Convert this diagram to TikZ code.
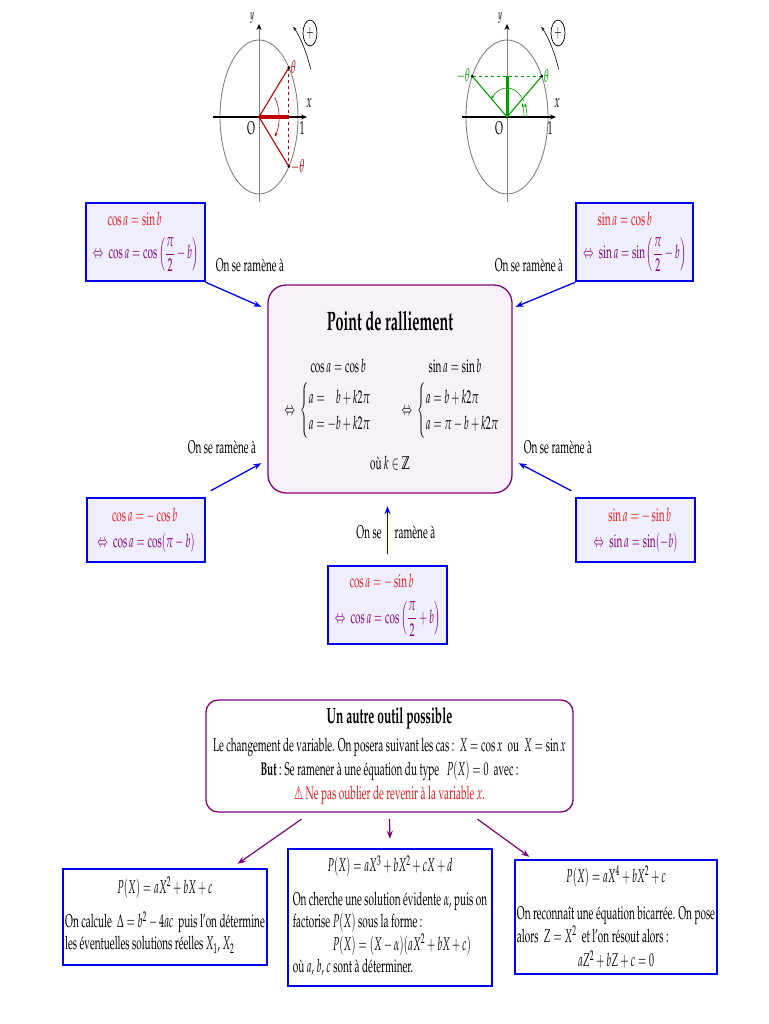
\documentclass[tikz,border=0pt]{standalone}
\usepackage{fontspec}
\usepackage[T1]{fontenc}
\usepackage{mathpazo}
\usepackage{amsmath,amssymb}
\usepackage{xcolor}
\usepackage{tikz}
\usetikzlibrary{arrows.meta,positioning}
\newfontfamily\signfont{DejaVu Sans}
\definecolor{convblue}{HTML}{0000F0}
\definecolor{convfill}{HTML}{EEEEFC}
\definecolor{rallypurple}{HTML}{800080}
\definecolor{rallyfill}{HTML}{F9F1F9}
\definecolor{eqred}{HTML}{F01818}
\definecolor{eqpurple}{HTML}{800080}
\definecolor{circred}{HTML}{C00000}
\definecolor{circgreen}{HTML}{00A000}
\definecolor{circgray}{HTML}{808080}
\tikzset{
  every node/.append style={yscale=1.85},
  convbox/.style={rectangle,draw=convblue,line width=1.3pt,fill=convfill,align=left,minimum width=119pt,inner sep=2pt},
  rallybox/.style={rectangle,rounded corners=18pt,draw=rallypurple,line width=1.3pt,fill=rallyfill,minimum width=244pt,minimum height=112.4pt},
  toolbox/.style={rectangle,rounded corners=12pt,draw=rallypurple,line width=1.3pt,fill=white,align=center,minimum width=367pt,minimum height=60.5pt},
  polybox/.style={rectangle,draw=convblue,line width=1.3pt,fill=white,align=center,inner sep=2pt},
  conv/.style={-{Stealth[length=8pt,width=6pt]},line width=1.3pt,draw=convblue},
  tool/.style={-{Stealth[length=8pt,width=6pt]},line width=1.2pt,draw=rallypurple},
  unitcircle/.style={draw=circgray,line width=0.9pt},
  xaxis/.style={-{Stealth[length=6pt,width=5pt]},line width=1.4pt,draw=black},
  yaxis/.style={-{Stealth[length=6pt,width=5pt,black]},line width=0.9pt,draw=circgray},
  turn/.style={-{Stealth[length=4pt,width=3pt]},line width=0.6pt},
  plussign/.style={circle,draw,line width=0.7pt,inner sep=0pt,minimum size=14pt,font=\small}
}
\begin{document}
\begin{tikzpicture}[x=1pt,y=-1pt]
\useasboundingbox (0,0) rectangle (768,1024);

% cercle trigo : cosinus
\begin{scope}[shift={(259pt,-117pt)}]
  \coordinate (oL) at (0pt,0pt);
  \coordinate (thL) at (40:39pt and 77pt);
  \coordinate (mthL) at (-40:39pt and 77pt);
  \draw[unitcircle] (oL) ellipse[x radius=39pt,y radius=77pt];
  \draw[yaxis] (0pt,-85pt) -- (0pt,93pt);
  \draw[xaxis] (-46pt,0pt) -- (48pt,0pt);
  \draw[circred,line width=3.5pt] (oL) -- (thL |- oL);
  \draw[circred,line width=1.1pt] (oL) -- (thL);
  \draw[circred,line width=1.1pt] (oL) -- (mthL);
  \draw[circred,line width=0.9pt,dashed] (thL) -- (mthL);
  \draw[circred,turn,{Stealth[length=4pt,width=3pt]}-] (-38:20pt and 32pt) arc[start angle=-38,end angle=38,x radius=20pt,y radius=32pt];
  \fill (thL) circle[radius=1.5pt];
  \fill (mthL) circle[radius=1.5pt];
  \node[anchor=west,text=circred,inner sep=2pt] (lblthL) at (thL) {$\theta$};
  \node[anchor=west,text=circred,inner sep=2pt] (lblmthL) at (mthL) {$-\theta$};
  \node (lblxL) at (50pt,14pt) {$x$};
  \node[font=\footnotesize] (lblyL) at (-7pt,99pt) {$y$};
  \node (lblOL) at (-8pt,-11pt) {O};
  \node (lbl1L) at (43pt,-11pt) {1};
  \node[plussign] (plusL) at (51pt,84pt) {$+$};
  \draw[turn] (25:57pt and 113pt) arc[start angle=25,end angle=53,x radius=57pt,y radius=113pt];
\end{scope}

% cercle trigo : sinus
\begin{scope}[shift={(507pt,-117pt)}]
  \coordinate (oR) at (0pt,0pt);
  \coordinate (thR) at (32:41pt and 77pt);
  \coordinate (mthR) at (148:41pt and 77pt);
  \draw[unitcircle] (oR) ellipse[x radius=41pt,y radius=77pt];
  \draw[yaxis] (0pt,-85pt) -- (0pt,93pt);
  \draw[xaxis] (-45pt,0pt) -- (49pt,0pt);
  \draw[circgreen,line width=3pt] (oR) -- (oR |- thR);
  \draw[circgreen,line width=1.1pt] (oR) -- (thR);
  \draw[circgreen,line width=1.1pt] (oR) -- (mthR);
  \draw[circgreen,line width=1.1pt,dashed] (thR) -- (mthR);
  \draw[circgreen,turn] (34:20pt and 29pt) arc[start angle=34,end angle=142,x radius=20pt,y radius=29pt];
  \draw[circgreen,turn] (0:17pt and 29pt) arc[start angle=0,end angle=28,x radius=17pt,y radius=29pt];
  \draw[circgreen,turn] (0:20pt and 29pt) arc[start angle=0,end angle=28,x radius=20pt,y radius=29pt];
  \fill (thR) circle[radius=1.5pt];
  \fill (mthR) circle[radius=1.5pt];
  \node[anchor=west,text=circgreen,inner sep=2pt] (lblthR) at (thR) {$\theta$};
  \node[anchor=east,text=circgreen,inner sep=2pt] (lblmthR) at (mthR) {$-\theta$};
  \node (lblxR) at (50pt,14pt) {$x$};
  \node[font=\footnotesize] (lblyR) at (-7pt,99pt) {$y$};
  \node (lblOR) at (-8pt,-11pt) {O};
  \node (lbl1R) at (43pt,-11pt) {1};
  \node[plussign] (plusR) at (51pt,84pt) {$+$};
  \draw[turn] (25:57pt and 113pt) arc[start angle=25,end angle=53,x radius=57pt,y radius=113pt];
\end{scope}

% point de ralliement
\node[rallybox] (rally) at (390,389) {};
\node (ralltitle) at (390,321) {\Large\bfseries Point de ralliement};
\node[anchor=west] (eqcos) at (307,366) {$\cos a=\cos b$};
\node[anchor=west] (eqsin) at (425,366) {$\sin a=\sin b$};
\node[anchor=west] (syscos) at (281,411) {$\Leftrightarrow\ \begin{cases} a=\phantom{-}b+k2\pi\\ a=-b+k2\pi\end{cases}$};
\node[anchor=west] (syssin) at (398,411) {$\Leftrightarrow\ \begin{cases} a=b+k2\pi\\ a=\pi-b+k2\pi\end{cases}$};
\node (ouk) at (390,463) {où $k\in\mathbb{Z}$};

% les cinq cas qui se ramenent
\node[convbox,minimum height=42.2pt] (convTL) at (145.5,242) {\textcolor{eqred}{$\phantom{\Leftrightarrow}\ \cos a=\sin b$}\\[6pt]
  \textcolor{eqpurple}{$\Leftrightarrow\ \cos a=\cos\left(\dfrac{\pi}{2}-b\right)$}};
\node[convbox,minimum height=42.2pt,minimum width=117pt] (convTR) at (634.5,242) {\textcolor{eqred}{$\phantom{\Leftrightarrow}\ \sin a=\cos b$}\\[6pt]
  \textcolor{eqpurple}{$\Leftrightarrow\ \sin a=\sin\left(\dfrac{\pi}{2}-b\right)$}};
\node[convbox,minimum height=34.6pt,minimum width=118pt] (convBL) at (146,530) {\textcolor{eqred}{$\phantom{\Leftrightarrow}\ \cos a=-\cos b$}\\[2pt]
  \textcolor{eqpurple}{$\Leftrightarrow\ \cos a=\cos(\pi-b)$}};
\node[convbox,minimum height=34.6pt] (convBR) at (635.5,530) {\textcolor{eqred}{$\phantom{\Leftrightarrow}\ \sin a=-\sin b$}\\[2pt]
  \textcolor{eqpurple}{$\Leftrightarrow\ \sin a=\sin(-b)$}};
\node[convbox,minimum height=42.2pt] (convBC) at (387.5,605) {\textcolor{eqred}{$\phantom{\Leftrightarrow}\ \cos a=-\sin b$}\\[6pt]
  \textcolor{eqpurple}{$\Leftrightarrow\ \cos a=\cos\left(\dfrac{\pi}{2}+b\right)$}};

\node (rameneTL) at (250,265) {On se ramène à};
\node (rameneTR) at (529,265) {On se ramène à};
\node (rameneL) at (222,447) {On se ramène à};
\node (rameneR) at (558,447) {On se ramène à};
\node (rameneA) at (369,532) {On se};
\node (rameneB) at (415,532) {ramène à};

\draw[conv] (convTL.south east) -- ([xshift=-6pt,yshift=-23pt]rally.north west);
\draw[conv] (convTR.south west) -- ([xshift=3pt,yshift=-23pt]rally.north east);
\draw[conv] ([xshift=5pt,yshift=6pt]convBL.north east) -- ([xshift=-6pt,yshift=31pt]rally.south west);
\draw[conv] ([xshift=-4pt,yshift=6pt]convBR.north west) -- ([xshift=6pt,yshift=31pt]rally.south east);
\draw[conv] ([yshift=11pt]convBC.north) -- ([yshift=-12pt]convBC.north |- rally.south);

% changement de variable
\node[toolbox] (outil) at (389.5,756) {{\large\bfseries Un autre outil possible}\\[3pt]
  Le changement de variable. On posera suivant les cas :\ \ $X=\cos x$\ \ ou\ \ $X=\sin x$\\[1pt]
  \textbf{But} : Se ramener à une équation du type\ \ \ $P(X)=0$\ \ avec :\\[1pt]
  \textcolor{eqred}{{\signfont ⚠}\ Ne pas oublier de revenir à la variable $x$.}};

\node[polybox,minimum width=204pt,minimum height=51.9pt] (polyA) at (165,917) {$P(X)=aX^2+bX+c$\\[6pt]
  \begin{tabular}{@{}l@{}}On calcule\ \ $\Delta=b^2-4ac$\ \ puis l'on détermine\\
  les éventuelles solutions réelles $X_1$, $X_2$\end{tabular}};
\node[polybox,minimum width=204pt,minimum height=74pt] (polyB) at (390,917.5) {$P(X)=aX^3+bX^2+cX+d$\\[6pt]
  \begin{tabular}{@{}l@{}}On cherche une solution évidente $\alpha$, puis on\\
  factorise $P(X)$ sous la forme :\\
  \hspace*{40pt}$P(X)=(X-\alpha)(aX^2+bX+c)$\\
  où $a$, $b$, $c$ sont à déterminer.\end{tabular}};
\node[polybox,minimum width=202pt,minimum height=61.6pt] (polyC) at (616,917) {$P(X)=aX^4+bX^2+c$\\[8pt]
  \begin{tabular}{@{}l@{}}On reconnaît une équation bicarrée. On pose\\
  alors\ \ $Z=X^2$\ \ et l'on résout alors :\end{tabular}\\
  $aZ^2+bZ+c=0$};

\draw[tool] ([xshift=-88pt,yshift=-6pt]outil.south) -- ([xshift=-30pt,yshift=4pt]polyA.north east);
\draw[tool] ([yshift=-6pt]outil.south) -- ([yshift=9pt]polyB.north);
\draw[tool] ([xshift=88pt,yshift=-6pt]outil.south) -- ([xshift=15pt,yshift=2pt]polyC.north west);
\end{tikzpicture}
\end{document}
